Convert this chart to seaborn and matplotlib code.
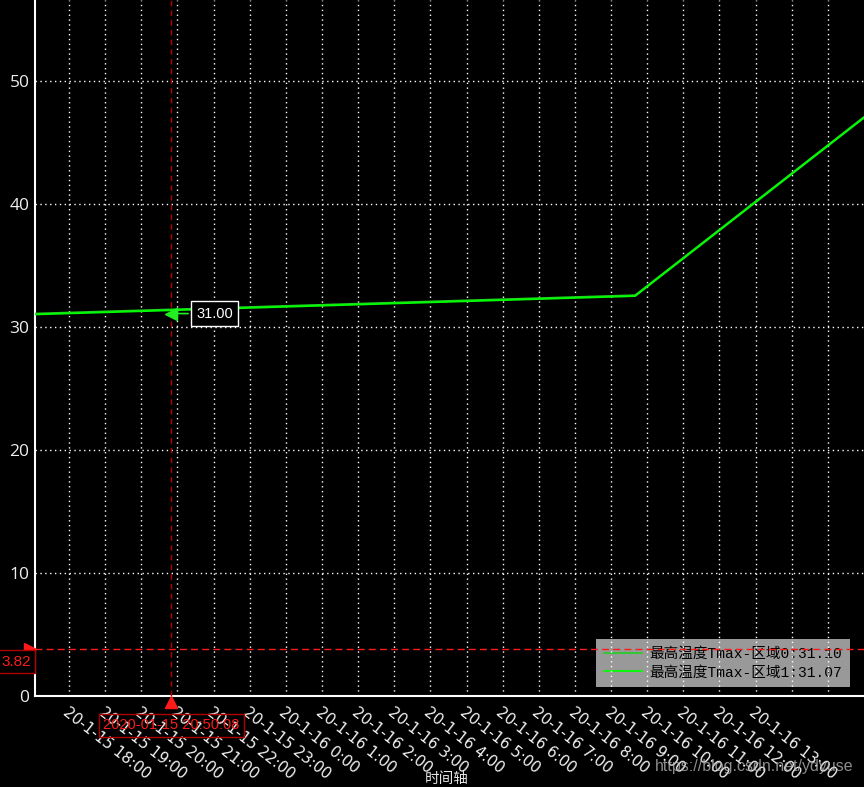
import numpy as np
import pandas as pd
import matplotlib
matplotlib.use("Agg")
import matplotlib.pyplot as plt
import matplotlib.dates as mdates
from matplotlib.ticker import FixedLocator, FixedFormatter, MultipleLocator
import seaborn as sns

# ---------------- data ----------------
times = pd.to_datetime(["2020-01-15 17:00:00", "2020-01-16 09:40:00", "2020-01-16 16:00:00"])
series_names = ["最高温度Tmax-区域0:31.10", "最高温度Tmax-区域1:31.07"]
values_0 = [31.10, 32.60, 47.10]
values_1 = [31.02, 32.52, 47.02]
series_colors = ["#22d022", "#00ff00"]
series_widths = [1.2, 1.3]

tick_times = pd.date_range("2020-01-15 18:00:00", "2020-01-16 15:00:00", freq="h")
tick_labels = ["20-1-15 18:00", "20-1-15 19:00", "20-1-15 20:00", "20-1-15 21:00",
               "20-1-15 22:00", "20-1-15 23:00", "20-1-16 0:00", "20-1-16 1:00",
               "20-1-16 2:00", "20-1-16 3:00", "20-1-16 4:00", "20-1-16 5:00",
               "20-1-16 6:00", "20-1-16 7:00", "20-1-16 8:00", "20-1-16 9:00",
               "20-1-16 10:00", "20-1-16 11:00", "20-1-16 12:00", "20-1-16 13:00",
               "", ""]
y_ticks = [0, 10, 20, 30, 40, 50]
x_limits = pd.to_datetime(["2020-01-15 17:03:30", "2020-01-16 16:00:00"])
y_limits = [0, 56.6]

cursor_time = pd.Timestamp("2020-01-15 20:50:08")
cursor_time_label = "2020-01-15 20:50:08"
cursor_value = 3.82
cursor_value_label = "3.82"
tip_value = 31.10
tip_label = "31.00"
x_axis_title = "时间轴"
watermark = "https://blog.csdn.net/ydyuse"

# ---------------- style ----------------
sns.set_style("dark")
plt.rcParams["font.family"] = ["DejaVu Sans", "Noto Sans CJK SC"]
plt.rcParams["axes.facecolor"] = "black"
plt.rcParams["figure.facecolor"] = "black"

df = pd.DataFrame({
    "time": list(times) * 2,
    "value": values_0 + values_1,
    "series": [series_names[0]] * len(times) + [series_names[1]] * len(times),
})

fig = plt.figure(figsize=(8.64, 7.87), dpi=100)
ax = fig.add_axes([35 / 864, 91 / 787, 1 - 35 / 864, 1 - 91 / 787])
ax.set_facecolor("black")

for i, name in enumerate(series_names):
    sub = df[df["series"] == name]
    sns.lineplot(data=sub, x="time", y="value", ax=ax, color=series_colors[i],
                 linewidth=series_widths[i], label=name, zorder=4)

ax.set_xlim(mdates.date2num(x_limits[0]), mdates.date2num(x_limits[1]))
ax.set_ylim(*y_limits)
cursor_num = mdates.date2num(cursor_time)

# ticks
tick_nums = mdates.date2num(tick_times.to_pydatetime())
ax.xaxis.set_major_locator(FixedLocator(tick_nums))
ax.xaxis.set_major_formatter(FixedFormatter(tick_labels))
ax.xaxis.set_minor_locator(MultipleLocator(1 / 96))
ax.yaxis.set_major_locator(FixedLocator(y_ticks))
ax.yaxis.set_minor_locator(MultipleLocator(2))

ax.tick_params(axis="both", which="major", direction="in", color="white",
               length=6, width=1.2)
ax.tick_params(axis="both", which="minor", direction="in", color="white",
               length=3, width=1.0)
ax.tick_params(axis="y", which="major", labelcolor="#eeeeee", labelsize=12.5, pad=4)
ax.tick_params(axis="x", which="major", labelcolor="#f2f2f2", labelsize=10.8, pad=6)
for lab in ax.get_yticklabels():
    lab.set_family(["Open Sans", "DejaVu Sans"])
for lab in ax.get_xticklabels():
    lab.set_rotation(-38)
    lab.set_ha("left")
    lab.set_va("top")
    lab.set_rotation_mode("anchor")

ax.grid(True, which="major", color="white", linestyle=(0, (1, 2.5)), linewidth=1.0)
ax.set_axisbelow(False)

for side in ["top", "right"]:
    ax.spines[side].set_visible(False)
for side in ["left", "bottom"]:
    ax.spines[side].set_color("white")
    ax.spines[side].set_linewidth(1.5)
ax.set_xlabel("")
ax.set_ylabel("")

# legend
leg = ax.legend(loc="upper right", bbox_to_anchor=(850 / 864, 1 - 639 / 787),
                bbox_transform=fig.transFigure, borderaxespad=0, frameon=True,
                facecolor="#999999", edgecolor="none", framealpha=1,
                handlelength=2.6, handletextpad=0.5, labelspacing=0.3,
                borderpad=0.55, fancybox=False,
                prop={"family": ["Liberation Mono", "Noto Sans CJK SC"], "size": 10.5})
for t in leg.get_texts():
    t.set_color("black")
leg.set_zorder(1)

# cursor lines
ax.axhline(cursor_value, color="#ff1a1a", linestyle=(0, (5, 3)), linewidth=1.0, zorder=6)
ax.axvline(cursor_num, color="#b00000", linestyle=(0, (4, 3)), linewidth=1.0, zorder=6)

yx = ax.get_yaxis_transform()
xa = ax.get_xaxis_transform()
ax.plot([-0.006], [cursor_value], marker=">", markersize=9, color="#ff1a1a",
        transform=yx, clip_on=False, zorder=7)
ax.plot([cursor_num], [-0.008], marker="^", markersize=9, color="#ff1a1a",
        transform=xa, clip_on=False, zorder=7)

ax.annotate(cursor_value_label, xy=(0, cursor_value), xycoords=yx,
            xytext=(-3, -9), textcoords="offset points", ha="right", va="center",
            color="#ff1a1a", fontsize=11, family=["Liberation Sans"],
            annotation_clip=False, zorder=8,
            bbox=dict(boxstyle="square,pad=0.3", facecolor="black",
                      edgecolor="#b00000", linewidth=1))
ax.annotate(cursor_time_label, xy=(cursor_num, 0), xycoords=xa,
            xytext=(0, -21), textcoords="offset points", ha="center", va="center",
            color="#ff1a1a", fontsize=10.5, family=["Liberation Sans"],
            annotation_clip=False, zorder=8,
            bbox=dict(boxstyle="square,pad=0.3", facecolor="none",
                      edgecolor="#b00000", linewidth=1))

# tooltip on the series
ax.plot([cursor_num], [tip_value], marker="<", markersize=8, color="#22ee22", zorder=7)
ax.annotate(tip_label, xy=(cursor_num, tip_value), xycoords="data",
            xytext=(18, 0), textcoords="offset points", ha="left", va="center",
            color="white", fontsize=10.5, family=["Liberation Sans"], zorder=8,
            arrowprops=dict(arrowstyle="-", color="#22ee22", linewidth=1.2),
            bbox=dict(boxstyle="square,pad=0.35", facecolor="black",
                      edgecolor="white", linewidth=1))

fig.text(447 / 864, 1 / 787, x_axis_title, ha="center", va="bottom",
         color="#e6e6e6", fontsize=10.5, family=["Noto Sans CJK SC"])
fig.text(853 / 864, 20 / 787, watermark, ha="right", va="center",
         color="#bbbbbb", alpha=0.75, fontsize=11.5, family=["Liberation Sans"])

fig.savefig("out.png", dpi=100, facecolor="black")
